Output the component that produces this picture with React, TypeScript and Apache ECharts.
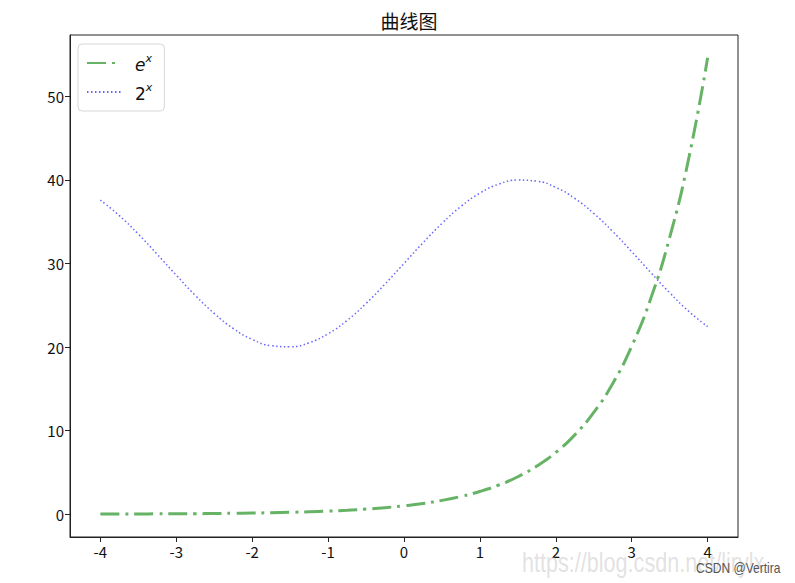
import React, { useEffect, useRef } from "react";
import * as echarts from "echarts";

const xValues = [-4, -3.75, -3.5, -3.25, -3, -2.75, -2.5, -2.25, -2, -1.75, -1.5, -1.25, -1, -0.75, -0.5, -0.25, 0,
  0.25, 0.5, 0.75, 1, 1.25, 1.5, 1.75, 2, 2.25, 2.5, 2.75, 3, 3.25, 3.5, 3.75, 4];
const expValues = [0.02, 0.02, 0.03, 0.04, 0.05, 0.06, 0.08, 0.11, 0.14, 0.17, 0.22, 0.29, 0.37, 0.47, 0.61, 0.78, 1.0,
  1.28, 1.65, 2.12, 2.72, 3.49, 4.48, 5.76, 7.39, 9.49, 12.18, 15.64, 20.09, 25.79, 33.12, 42.52, 54.6];
const waveValues = [37.57, 35.72, 33.51, 31.08, 28.59, 26.18, 24.02, 22.22, 20.91, 20.16, 20.03, 20.51, 21.59, 23.18,
  25.21, 27.53, 30.0, 32.47, 34.79, 36.82, 38.41, 39.49, 39.97, 39.84, 39.09, 37.78, 35.98, 33.82, 31.41, 28.92, 26.49,
  24.28, 22.43];
const xTicks = [-4, -3, -2, -1, 0, 1, 2, 3, 4];
const yTicks = [0, 10, 20, 30, 40, 50];
const titleText = "曲线图";
const seriesNames = ["e^x", "2^x"];
const watermarkText = "https://blog.csdn.net/lirylx";
const creditText = "CSDN @Vertira";

const FONT = "'Noto Sans CJK SC', 'DejaVu Sans', sans-serif";
const GREEN = "rgba(0,128,0,0.6)";
const BLUE = "rgba(0,0,255,0.6)";

export default function App() {
  const ref = useRef<HTMLDivElement>(null);
  useEffect(() => {
    if (!ref.current) return;
    const chart = echarts.init(ref.current, undefined, { renderer: "svg" });
    chart.setOption({
      animation: false,
      backgroundColor: "#ffffff",
      title: {
        text: titleText,
        left: 404,
        top: 6,
        textAlign: "center",
        textStyle: { fontFamily: FONT, fontSize: 19, fontWeight: "normal", color: "#111" },
      },
      grid: {
        left: 70,
        right: 57,
        top: 35,
        bottom: 46,
        show: true,
        borderColor: "#222",
        borderWidth: 1,
        backgroundColor: "transparent",
      },
      legend: {
        orient: "vertical",
        left: 78,
        top: 44,
        padding: [9, 12, 9, 8],
        itemGap: 9,
        itemWidth: 34,
        itemHeight: 20,
        backgroundColor: "#fff",
        borderColor: "#d6d6d6",
        borderWidth: 1,
        borderRadius: 4,
        data: seriesNames,
        itemStyle: { opacity: 0 },
        formatter: (name: string) => {
          const parts = name.split("^");
          const base = parts[0] === "e" ? "{i|e}" : "{n|" + parts[0] + "}";
          return base + "{s|" + parts[1] + "}";
        },
        textStyle: {
          fontFamily: "'DejaVu Sans', sans-serif",
          color: "#111",
          padding: [0, 6, 0, 9],
          rich: {
            i: { fontSize: 17, fontStyle: "italic", fontFamily: "'DejaVu Sans', sans-serif", lineHeight: 20, verticalAlign: "bottom", color: "#111" },
            n: { fontSize: 17, fontFamily: "'DejaVu Sans', sans-serif", lineHeight: 20, verticalAlign: "bottom", color: "#111" },
            s: { fontSize: 11, fontStyle: "italic", fontFamily: "'DejaVu Sans', sans-serif", lineHeight: 20, verticalAlign: "top", color: "#111" },
          },
        },
      },
      xAxis: {
        type: "value",
        min: -4.4,
        max: 4.4,
        splitLine: { show: false },
        axisLine: { show: true, onZero: false, lineStyle: { color: "#222", width: 1 } },
        axisTick: { show: true, inside: false, length: 5, customValues: xTicks, lineStyle: { color: "#222" } },
        axisLabel: {
          customValues: xTicks,
          margin: 7,
          fontFamily: FONT,
          fontSize: 15,
          color: "#111",
          formatter: (v: number) => String(v),
        },
      },
      yAxis: {
        type: "value",
        min: -2.73,
        max: 57.33,
        splitLine: { show: false },
        axisLine: { show: true, onZero: false, lineStyle: { color: "#222", width: 1 } },
        axisTick: { show: true, inside: false, length: 5, customValues: yTicks, lineStyle: { color: "#222" } },
        axisLabel: {
          customValues: yTicks,
          margin: 6,
          fontFamily: FONT,
          fontSize: 15,
          color: "#111",
          formatter: (v: number) => String(v),
        },
      },
      series: [
        {
          name: seriesNames[0],
          type: "line",
          smooth: true,
          symbol: "none",
          data: xValues.map((x, i) => [x, expValues[i]]),
          lineStyle: { color: GREEN, width: 3, type: [19, 6, 3, 6], cap: "butt" },
          itemStyle: { color: GREEN },
          z: 3,
        },
        {
          name: seriesNames[1],
          type: "line",
          smooth: true,
          symbol: "none",
          data: xValues.map((x, i) => [x, waveValues[i]]),
          lineStyle: { color: BLUE, width: 1.5, type: [1.5, 2.5], cap: "butt" },
          itemStyle: { color: BLUE },
          z: 3,
        },
      ],
      graphic: [
        {
          type: "text",
          x: 522,
          y: 549,
          scaleX: 0.8,
          silent: true,
          style: {
            text: watermarkText,
            fontFamily: "'Liberation Sans', sans-serif",
            fontSize: 27,
            fill: "rgba(190,190,190,0.45)",
          },
          z: 100,
        },
        {
          type: "text",
          x: 696,
          y: 561,
          scaleX: 0.86,
          silent: true,
          style: {
            text: creditText,
            fontFamily: "'Liberation Sans', sans-serif",
            fontSize: 14,
            fill: "#555",
          },
          z: 101,
        },
      ],
    });
    return () => chart.dispose();
  }, []);
  return <div ref={ref} style={{ width: 795, height: 583, position: "absolute", left: 0, top: 0 }} />;
}
